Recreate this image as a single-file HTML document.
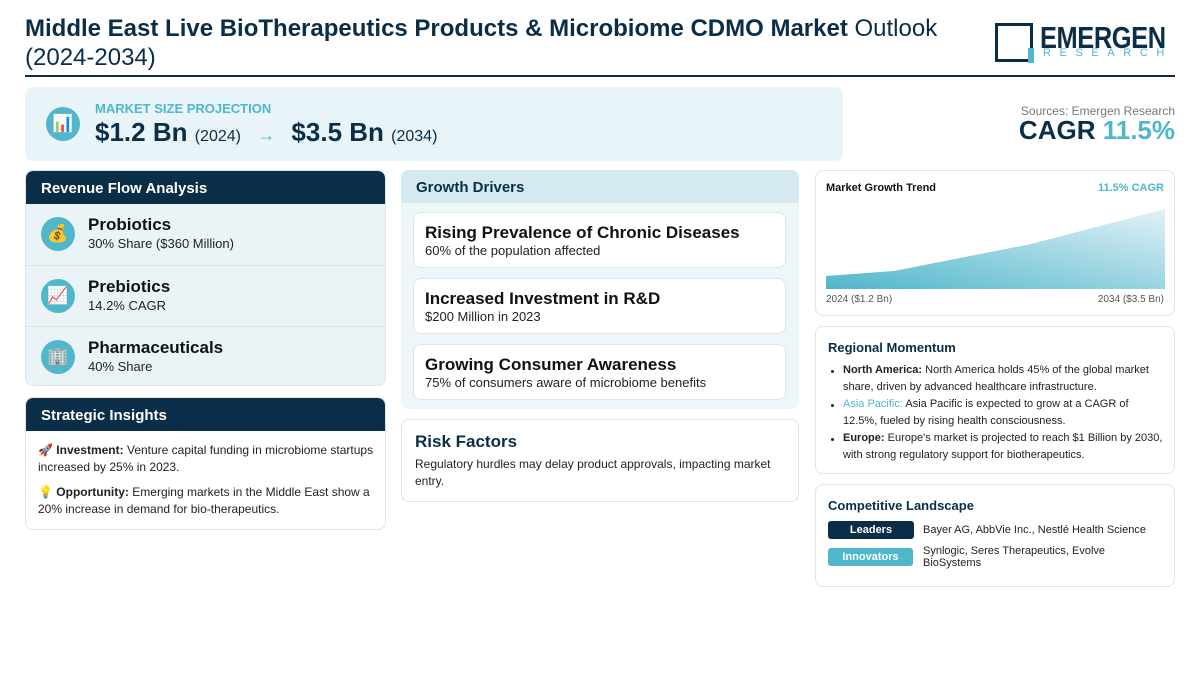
<!DOCTYPE html>
<html><head><meta charset="utf-8"><style>
*{margin:0;padding:0;box-sizing:border-box}
body{width:1200px;height:700px;background:#fff;font-family:"Liberation Sans",sans-serif;position:relative;overflow:hidden;color:#1a1a1a}
.a{position:absolute}
.navy{color:#0b2e48}
.teal{color:#4fb6cb}
.card{position:absolute;border:1px solid #dfe5ea;border-radius:8px;background:#fff}
.hdr{position:absolute;left:0;right:0;top:0;height:33px;background:#0b2e48;color:#fff;font-weight:bold;font-size:15px;padding:9px 15px;border-radius:7px 7px 0 0}
.row{position:absolute;left:0;right:0;height:61px;background:#eaf4f7;border-top:1px solid #d8e6eb}
.ic{position:absolute;left:15px;top:13px;width:34px;height:34px;border-radius:50%;background:#4fb6cb;text-align:center;line-height:34px;font-size:17px}
.rt{position:absolute;left:62px;top:11px;font-size:17px;font-weight:bold;color:#111}
.rs{position:absolute;left:62px;top:32px;font-size:13px;color:#222}
.gd{position:absolute;left:12px;width:373px;height:56px;background:#fff;border:1px solid #dde6ea;border-radius:8px}
.gd b{position:absolute;left:11px;top:10px;font-size:17px;color:#111}
.gd span{position:absolute;left:11px;top:30px;font-size:13px;color:#222}
ul{list-style:none}
li{position:relative;padding-left:15px;font-size:11px;line-height:17px;color:#222}
li:before{content:"";position:absolute;left:3px;top:8px;width:3px;height:3px;background:#222;border-radius:50%}
</style></head><body>
<div class="a navy" style="left:25px;top:14px;font-size:24px;line-height:29px;width:940px"><b>Middle East Live BioTherapeutics Products &amp; Microbiome CDMO Market</b> Outlook<br>(2024-2034)</div>
<div class="a" style="left:25px;top:75px;width:1150px;height:2px;background:#0b2e48"></div>
<div class="a" style="left:995px;top:23px;width:38px;height:39px;border:3px solid #0b2e48"></div>
<div class="a" style="left:1028px;top:48px;width:6px;height:15px;background:#4fb6cb"></div>
<div class="a navy" style="left:1040px;top:22px;font-size:31px;font-weight:bold;line-height:31px;transform:scaleX(0.82);transform-origin:0 0;letter-spacing:-0.5px">EMERGEN</div>
<div class="a teal" style="left:1043px;top:48px;font-size:11px;line-height:11px;letter-spacing:8.6px">RESEARCH</div>

<div class="a" style="left:25px;top:87px;width:818px;height:74px;background:#e8f4f7;border-radius:8px"></div>
<div class="a" style="left:46px;top:107px;width:34px;height:34px;border-radius:50%;background:#4fb6cb;text-align:center;line-height:34px;font-size:17px">📊</div>
<div class="a teal" style="left:95px;top:101px;font-size:13px;font-weight:bold">MARKET SIZE PROJECTION</div>
<div class="a navy" style="left:95px;top:117px;font-size:26px;font-weight:bold;white-space:nowrap">$1.2 Bn <span style="font-size:16px;font-weight:normal">(2024)</span> <span class="teal" style="font-size:18px;font-weight:normal;margin:0 9px">→</span> $3.5 Bn <span style="font-size:16px;font-weight:normal">(2034)</span></div>
<div class="a" style="right:25px;top:104px;font-size:12px;color:#777">Sources: Emergen Research</div>
<div class="a navy" style="right:25px;top:115px;font-size:26px;font-weight:bold">CAGR <span class="teal">11.5%</span></div>

<div class="card" style="left:25px;top:170px;width:361px;height:216px;background:#eaf4f7;overflow:hidden">
<div class="hdr">Revenue Flow Analysis</div>
<div class="row" style="top:33px;border-top:none"><div class="ic">💰</div><div class="rt">Probiotics</div><div class="rs">30% Share ($360 Million)</div></div>
<div class="row" style="top:94px"><div class="ic">📈</div><div class="rt">Prebiotics</div><div class="rs">14.2% CAGR</div></div>
<div class="row" style="top:155px"><div class="ic">🏢</div><div class="rt">Pharmaceuticals</div><div class="rs">40% Share</div></div>
</div>
<div class="card" style="left:25px;top:397px;width:361px;height:133px;overflow:hidden">
<div class="hdr">Strategic Insights</div>
<div class="a" style="left:12px;top:44px;width:340px;font-size:12px;line-height:17px;color:#222">🚀 <b>Investment:</b> Venture capital funding in microbiome startups increased by 25% in 2023.</div>
<div class="a" style="left:12px;top:86px;width:340px;font-size:12px;line-height:17px;color:#222">💡 <b>Opportunity:</b> Emerging markets in the Middle East show a 20% increase in demand for bio-therapeutics.</div>
</div>

<div class="a" style="left:401px;top:170px;width:398px;height:239px;background:#eef6f9;border-radius:8px;overflow:hidden">
<div class="a navy" style="left:0;right:0;top:0;height:33px;background:#d5eaf0;font-size:15px;font-weight:bold;padding:9px 15px">Growth Drivers</div>
<div class="gd" style="top:42px"><b>Rising Prevalence of Chronic Diseases</b><span>60% of the population affected</span></div>
<div class="gd" style="top:108px"><b>Increased Investment in R&amp;D</b><span>$200 Million in 2023</span></div>
<div class="gd" style="top:174px"><b>Growing Consumer Awareness</b><span>75% of consumers aware of microbiome benefits</span></div>
</div>
<div class="card" style="left:401px;top:419px;width:398px;height:83px">
<div class="a navy" style="left:13px;top:12px;font-size:17px;font-weight:bold">Risk Factors</div>
<div class="a" style="left:13px;top:36px;width:370px;font-size:12px;line-height:17px;color:#222">Regulatory hurdles may delay product approvals, impacting market entry.</div>
</div>

<div class="card" style="left:815px;top:170px;width:360px;height:146px">
<div class="a" style="left:10px;top:11px;font-size:11px;font-weight:bold;color:#111">Market Growth Trend</div>
<div class="a teal" style="right:10px;top:11px;font-size:11px;font-weight:bold">11.5% CAGR</div>
<svg class="a" style="left:0;top:0" width="360" height="146"><defs><linearGradient id="g" x1="0" y1="1" x2="1" y2="0"><stop offset="0" stop-color="#4fb6cb"/><stop offset="1" stop-color="#e3f2f6"/></linearGradient></defs>
<path d="M10 105 L78 100 L215 73 L349 38 L349 118 L10 118 Z" fill="url(#g)"/></svg>
<div class="a" style="left:10px;top:123px;font-size:10px;color:#555">2024 ($1.2 Bn)</div>
<div class="a" style="right:10px;top:123px;font-size:10px;color:#555">2034 ($3.5 Bn)</div>
</div>
<div class="card" style="left:815px;top:326px;width:360px;height:148px">
<div class="a navy" style="left:12px;top:13px;font-size:13px;font-weight:bold">Regional Momentum</div>
<ul class="a" style="left:12px;top:35px;width:336px">
<li><b>North America:</b> North America holds 45% of the global market share, driven by advanced healthcare infrastructure.</li>
<li><b class="teal" style="font-weight:normal">Asia Pacific:</b> Asia Pacific is expected to grow at a CAGR of 12.5%, fueled by rising health consciousness.</li>
<li><b>Europe:</b> Europe's market is projected to reach $1 Billion by 2030, with strong regulatory support for biotherapeutics.</li>
</ul>
</div>
<div class="card" style="left:815px;top:484px;width:360px;height:103px">
<div class="a navy" style="left:12px;top:13px;font-size:13px;font-weight:bold">Competitive Landscape</div>
<div class="a" style="left:12px;top:36px;width:86px;height:18px;background:#0b2e48;border-radius:3px;color:#fff;font-size:11px;font-weight:bold;text-align:center;line-height:18px">Leaders</div>
<div class="a" style="left:107px;top:39px;font-size:11px;color:#222">Bayer AG, AbbVie Inc., Nestlé Health Science</div>
<div class="a" style="left:12px;top:63px;width:85px;height:18px;background:#4fb6cb;border-radius:3px;color:#fff;font-size:11px;font-weight:bold;text-align:center;line-height:18px">Innovators</div>
<div class="a" style="left:107px;top:60px;width:220px;font-size:11px;line-height:12px;color:#222">Synlogic, Seres Therapeutics, Evolve BioSystems</div>
</div>
</body></html>
